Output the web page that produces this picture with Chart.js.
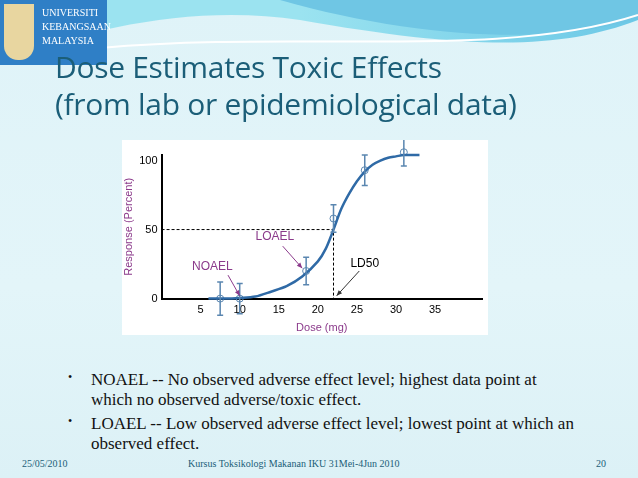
<!DOCTYPE html><html><head><meta charset="utf-8">
<script src="https://cdn.jsdelivr.net/npm/chart.js"></script>
<style>
body{margin:0;width:638px;height:478px;overflow:hidden;position:relative;background:linear-gradient(#dff3f8,#e3f5f9 60%,#dcf1f6);font-family:"Open Sans",sans-serif}
#wave{position:absolute;left:0;top:0}
#logo{position:absolute;left:0;top:0;width:107px;height:65px;background:#2f7fc6;color:#fff;font-family:"Liberation Serif";font-size:10px;line-height:14px}
#title{position:absolute;left:55px;top:48px;color:#1b5e78;font-size:30px;line-height:37px;font-family:"Open Sans";letter-spacing:-0.3px}
#box{position:absolute;left:122px;top:140px;width:366px;height:195px;background:#fff}
ul{position:absolute;left:58px;top:370px;margin:0;padding:0;list-style:none;font-family:"Liberation Serif";font-size:17px;line-height:20px;color:#111}
li{position:relative;padding-left:33px;width:490px;margin-bottom:4px}
li:before{content:"•";position:absolute;left:10px;top:-3px;font-size:12px}
.f{position:absolute;top:458px;font-family:"Liberation Serif";font-size:10px;color:#1b5e78}
</style></head><body>
<canvas id="wave" width="638" height="140"></canvas>
<div id="logo"><div style="position:absolute;left:4px;top:4px;width:30px;height:56px;background:#e8d6a0;border-radius:0 0 14px 14px"></div><div style="position:absolute;left:42px;top:6px">UNIVERSITI<br>KEBANGSAAN<br>MALAYSIA</div></div>
<div id="title">Dose Estimates Toxic Effects<br>(from lab or epidemiological data)</div>
<div id="box"><canvas id="c" width="366" height="195"></canvas></div>
<ul><li>NOAEL -- No observed adverse effect level; highest data point at which no observed adverse/toxic effect.</li>
<li>LOAEL -- Low observed adverse effect level; lowest point at which an observed effect.</li></ul>
<div class="f" style="left:22px">25/05/2010</div>
<div class="f" style="left:188px">Kursus Toksikologi Makanan IKU 31Mei-4Jun 2010</div>
<div class="f" style="left:596px">20</div>
<script>
const w=document.getElementById('wave').getContext('2d');
let g=w.createLinearGradient(300,0,638,0);g.addColorStop(0,'#9be3f0');g.addColorStop(1,'#6cc8e6');
w.fillStyle=g;w.beginPath();w.moveTo(0,0);w.lineTo(638,0);w.lineTo(638,20);w.bezierCurveTo(560,50,470,50,300,20);w.bezierCurveTo(200,5,100,25,0,60);w.closePath();w.fill();
w.fillStyle='#6fc6e4';w.beginPath();w.moveTo(280,0);w.lineTo(638,0);w.lineTo(638,18);w.bezierCurveTo(560,45,420,40,280,0);w.fill();
w.strokeStyle='#fff';w.lineWidth=2;w.beginPath();w.moveTo(100,48);w.bezierCurveTo(300,30,500,60,638,15);w.stroke();

const curveX=[6,8,10,12,14,16,18,20,21,22,23,24,25,26,27,28,29,30,31,33];
const curveY=[0,0,0.5,1.5,5,9,16,27,36,50,65,76,85,92,97,100,102,103,104,104];
const obsX=[7.5,10,18.5,22,26,31];
const obsY=[0,0,20,58,93,106];
const errY=[12,11,10,10,11,10];
const xTicks=[5,10,15,20,25,30,35];
const yTicks=[0,50,100];
const labels=[{t:'NOAEL',x:6.5,y:23,sx:8.5,sy:17,ax:10,ay:2,c:'#8b3a8b'},{t:'LOAEL',x:14.5,y:45,sx:15.5,sy:38,ax:18,ay:22,c:'#8b3a8b'},{t:'LD50',x:26,y:25,sx:25.3,sy:20,ax:22.4,ay:2,c:'#000'}];
const blue='#2f6aa6';
const extra={id:'extra',afterDatasetsDraw(ch){
 const c=ch.ctx,xs=ch.scales.x,ys=ch.scales.y;c.save();
 c.strokeStyle='#5a86b0';c.lineWidth=1.5;
 obsX.forEach((x,i)=>{const px=xs.getPixelForValue(x),t=ys.getPixelForValue(obsY[i]+errY[i]),b=ys.getPixelForValue(obsY[i]-errY[i]);
  c.beginPath();c.moveTo(px,t);c.lineTo(px,b);c.moveTo(px-3,t);c.lineTo(px+3,t);c.moveTo(px-3,b);c.lineTo(px+3,b);c.stroke();});
 c.font='12px Arial';c.textAlign='center';c.textBaseline='middle';
 labels.forEach(l=>{const px=xs.getPixelForValue(l.x),py=ys.getPixelForValue(l.y);c.fillStyle=l.c;c.fillText(l.t,px,py);
  const sx=xs.getPixelForValue(l.sx),sy=ys.getPixelForValue(l.sy),ex=xs.getPixelForValue(l.ax),ey=ys.getPixelForValue(l.ay);
  c.strokeStyle=l.c=='#000'?'#333':'#8b3a8b';c.lineWidth=1;c.beginPath();c.moveTo(sx,sy);c.lineTo(ex,ey);c.stroke();
  const a=Math.atan2(ey-sy,ex-sx);c.fillStyle=c.strokeStyle;c.beginPath();c.moveTo(ex,ey);c.lineTo(ex-6*Math.cos(a-0.4),ey-6*Math.sin(a-0.4));c.lineTo(ex-6*Math.cos(a+0.4),ey-6*Math.sin(a+0.4));c.fill();});
 c.restore();}};
new Chart(document.getElementById('c'),{type:'scatter',
 data:{datasets:[
  {data:curveX.map((x,i)=>({x,y:curveY[i]})),showLine:true,borderColor:blue,borderWidth:2.5,pointRadius:0,tension:0.3},
  {data:obsX.map((x,i)=>({x,y:obsY[i]})),pointRadius:3.5,pointBorderColor:'#5a86b0',pointBackgroundColor:'rgba(0,0,0,0)',borderWidth:1},
  {data:[{x:0,y:50},{x:22,y:50},{x:22,y:0}],showLine:true,borderColor:'#000',borderWidth:1,borderDash:[3,2],pointRadius:0}]},
 options:{responsive:false,animation:false,clip:false,layout:{padding:{top:15,right:6,left:0,bottom:0}},plugins:{legend:{display:false},tooltip:{enabled:false}},
 scales:{x:{type:'linear',min:0,max:41,afterBuildTicks:a=>{a.ticks=xTicks.map(v=>({value:v}))},grid:{display:false,drawTicks:false},border:{color:'#000',width:2},
   ticks:{color:'#000',font:{family:'Arial',size:11},padding:5},title:{display:true,text:'Dose (mg)',color:'#8b3a8b',font:{family:'Arial',size:11},padding:0}},
  y:{min:0,max:104,afterBuildTicks:a=>{a.ticks=yTicks.map(v=>({value:v}))},grid:{display:false,drawTicks:false},border:{color:'#000',width:2},
   ticks:{color:'#000',font:{family:'Arial',size:11},padding:4},title:{display:true,text:'Response (Percent)',color:'#8b3a8b',font:{family:'Arial',size:11},padding:0}}}},
 plugins:[extra]});
</script></body></html>
